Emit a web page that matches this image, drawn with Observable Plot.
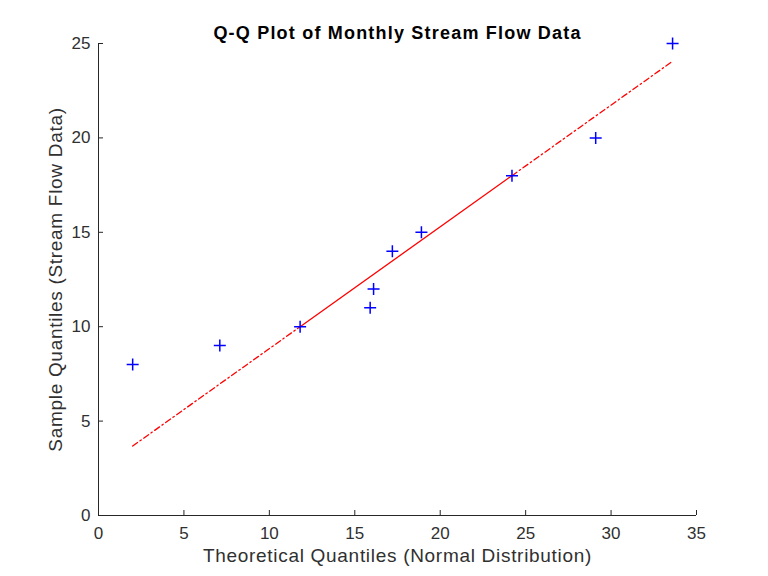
<!DOCTYPE html>
<html>
<head>
<meta charset="utf-8">
<script src="https://cdn.jsdelivr.net/npm/d3@7"></script>
<script src="https://cdn.jsdelivr.net/npm/@observablehq/plot@0.6"></script>
<style>
  html, body { margin: 0; padding: 0; background: #fff; }
  #chart { width: 768px; height: 576px; }
</style>
</head>
<body>
<div id="chart"></div>
<script>
// Theoretical quantiles (x) and sample quantiles (y)
const theoretical = [2.0, 7.1, 11.8, 15.9, 16.1, 17.2, 18.9, 24.2, 29.1, 33.6];
const sample      = [8, 9, 10, 11, 12, 14, 15, 18, 20, 25];

// Reference line: solid between the quartile points, dash-dot extrapolation
const lineSolidX = [11.8, 24.2];
const lineSolidY = [10.0, 18.0];
const lineLowX = [2.0, 11.8];
const lineLowY = [3.68, 10.0];
const lineHighX = [24.2, 33.6];
const lineHighY = [18.0, 24.06];

const xTicks = [0, 5, 10, 15, 20, 25, 30, 35];
const yTicks = [0, 5, 10, 15, 20, 25];

const title = "Q-Q Plot of Monthly Stream Flow Data";
const xLabel = "Theoretical Quantiles (Normal Distribution)";
const yLabel = "Sample Quantiles (Stream Flow Data)";

const points = theoretical.map((x, i) => ({x, y: sample[i]}));
const seg = (xs, ys) => xs.map((x, i) => ({x, y: ys[i]}));

const plusSymbol = {
  draw(context, size) {
    const h = Math.sqrt(size / Math.PI);
    context.moveTo(-h, 0); context.lineTo(h, 0);
    context.moveTo(0, -h); context.lineTo(0, h);
  }
};

const axisColor = "#262626";
const textColor = "#303030";

const chart = Plot.plot({
  width: 768,
  height: 576,
  marginLeft: 98,
  marginRight: 72,
  marginTop: 43,
  marginBottom: 61,
  style: { fontFamily: "'Liberation Sans', Arial, Helvetica, sans-serif", background: "#fff", color: axisColor },
  x: { domain: [0, 35] },
  y: { domain: [0, 25] },
  marks: [
    Plot.axisX(xTicks, { tickSize: -5, tickPadding: 16, fontSize: 17, stroke: axisColor, fill: textColor, label: null }),
    Plot.axisY(yTicks, { tickSize: -5, tickPadding: 13, fontSize: 17, stroke: axisColor, fill: textColor, label: null }),
    Plot.ruleY([0], { stroke: axisColor }),
    Plot.ruleX([0], { stroke: axisColor }),
    Plot.line(seg(lineLowX, lineLowY), { x: "x", y: "y", stroke: "#ff0000", strokeWidth: 1.3, strokeDasharray: "6,3,1.5,3" }),
    Plot.line(seg(lineHighX, lineHighY), { x: "x", y: "y", stroke: "#ff0000", strokeWidth: 1.3, strokeDasharray: "6,3,1.5,3" }),
    Plot.line(seg(lineSolidX, lineSolidY), { x: "x", y: "y", stroke: "#ff0000", strokeWidth: 1.3 }),
    Plot.dot(points, { x: "x", y: "y", symbol: plusSymbol, r: 6, stroke: "#0000ff", strokeWidth: 1.5, fill: "none" }),
    Plot.text([title], { frameAnchor: "top", dy: -17, fontSize: 18, fontWeight: "bold", fill: "#000", className: "ttl" }),
    Plot.text([xLabel], { frameAnchor: "bottom", dy: 46, fontSize: 19, fill: textColor, className: "lbl" }),
    Plot.text([yLabel], { frameAnchor: "left", dx: -43, rotate: -90, textAnchor: "middle", fontSize: 19, fill: textColor, className: "lbl" })
  ]
});
// letter spacing to match the wider reference lettering
chart.querySelectorAll(".ttl text").forEach(t => t.style.letterSpacing = "1.2px");
chart.querySelectorAll(".lbl text").forEach(t => t.style.letterSpacing = "0.7px");
document.getElementById("chart").appendChild(chart);
</script>
</body>
</html>
